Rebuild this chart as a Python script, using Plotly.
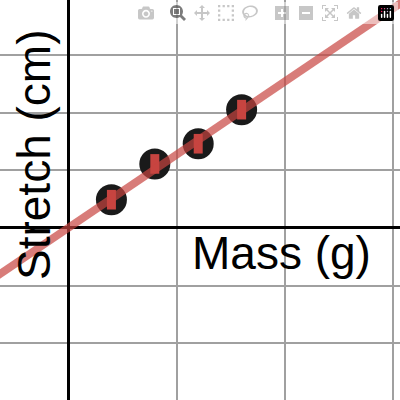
import plotly.graph_objects as go

# data
mass = [0.4, 0.8, 1.2, 1.6]
stretch = [0.49, 1.11, 1.46, 2.05]
err = [0.17, 0.17, 0.17, 0.17]
fit_x = [-0.7, 3.2]
slope = 1.27

fit_y = [slope * v for v in fit_x]

fig = go.Figure()
fig.add_trace(go.Scatter(x=mass, y=stretch, mode="markers",
                         marker=dict(color="#1a1a1a", size=31)))
fig.add_trace(go.Scatter(x=mass, y=stretch, mode="markers",
                         marker=dict(color="rgba(0,0,0,0)", size=1),
                         error_y=dict(type="data", array=err, color="#c74440",
                                      thickness=9, width=0)))
fig.add_trace(go.Scatter(x=fit_x, y=fit_y, mode="lines",
                         line=dict(color="rgba(199,68,64,0.7)", width=8)))

fig.add_annotation(x=1.12, y=-0.44, xref="x", yref="y", text="Mass (g)",
                   showarrow=False, xanchor="left", yanchor="middle",
                   font=dict(size=46, color="black"))
fig.add_annotation(x=-0.32, y=1.27, xref="x", yref="y", text="Stretch (cm)",
                   showarrow=False, textangle=-90,
                   font=dict(size=46, color="black"))

fig.update_xaxes(range=[-0.627, 3.06], dtick=1, showgrid=True, gridcolor="#a0a0a0",
                 gridwidth=1.5, zeroline=True, zerolinecolor="black", zerolinewidth=3,
                 showticklabels=False)
fig.update_yaxes(range=[-2.98, 3.95], dtick=1, showgrid=True, gridcolor="#a0a0a0",
                 gridwidth=1.5, zeroline=True, zerolinecolor="black", zerolinewidth=3,
                 showticklabels=False)
fig.update_layout(width=400, height=400, margin=dict(l=0, r=0, t=0, b=0),
                  plot_bgcolor="white", paper_bgcolor="white", showlegend=False,
                  font=dict(family="Liberation Sans"))
fig.write_html("out.html", post_script="document.body.style.margin='0';")
